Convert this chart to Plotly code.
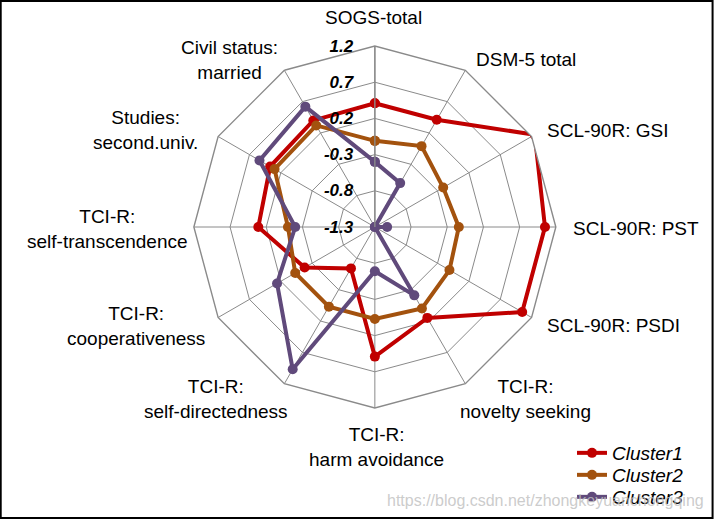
import plotly.graph_objects as go

categories = [
    "SOGS-total", "DSM-5 total", "SCL-90R: GSI", "SCL-90R: PST", "SCL-90R: PSDI",
    "TCI-R:<br>novelty seeking", "TCI-R:<br>harm avoidance", "TCI-R:<br>self-directedness",
    "TCI-R:<br>cooperativeness", "TCI-R:<br>self-transcendence",
    "Studies:<br>second.univ.", "Civil status:<br>married",
]
cluster1 = [0.41, 0.41, 1.25, 1.05, 1.05, 0.15, 0.49, -0.64, -0.18, 0.31, 0.37, 0.40]
cluster2 = [-0.11, -0.01, -0.21, -0.14, -0.11, 0.00, -0.03, -0.03, -0.03, -0.10, 0.30, 0.32]
cluster3 = [-0.40, -0.60, -1.30, -1.13, -1.30, -0.21, -0.69, 0.97, 0.26, -0.20, 0.54, 0.62]
series_names = ["Cluster1", "Cluster2", "Cluster3"]
colors = ["#C00000", "#A3520E", "#604A7B"]
tick_vals = [-1.3, -0.8, -0.3, 0.2, 0.7, 1.2]
tick_text = ["-1.3", "-0.8", "-0.3", "0.2", "0.7", "1.2"]

# label placement (pixel positions in the 714x520 canvas) and anchors
W, H = 714, 520
label_xy = [(373, 18), (474, 59), (545, 130), (571, 228), (545, 325), (525, 399),
            (376, 447), (216, 399), (136, 326), (107, 229), (145, 130), (229, 60)]
label_anchor = ["center", "left", "left", "left", "left", "center",
                "center", "center", "center", "center", "center", "center"]
legend_rows_y = [453, 475, 497]

FONT = "Liberation Sans, Arial, sans-serif"
fig = go.Figure()
legend_ids = ["legend", "legend2", "legend3"]
for name, vals, col, lg in zip(series_names, [cluster1, cluster2, cluster3], colors, legend_ids):
    fig.add_trace(go.Scatterpolar(
        r=vals + vals[:1], theta=categories + categories[:1],
        mode="lines+markers", name=name, legend=lg, cliponaxis=True, showlegend=True,
        line=dict(color=col, width=4), marker=dict(color=col, size=10, symbol="circle"),
    ))

annotations = []
for text, (px, py), anc in zip(categories, label_xy, label_anchor):
    annotations.append(dict(text=text, xref="paper", yref="paper", x=px / W, y=1 - py / H,
                            xanchor=anc, yanchor="middle", showarrow=False, align="center",
                            font=dict(family=FONT, size=19, color="black")))
annotations.append(dict(text="https://blog.csdn.net/zhongkeyuanchongqing", xref="paper", yref="paper",
                        x=706 / W, y=1 - 500 / H, xanchor="right", yanchor="middle", showarrow=False,
                        font=dict(family=FONT, size=16, color="rgba(190,190,190,0.8)")))

layout_legends = {}
for lg, ry in zip(legend_ids, legend_rows_y):
    layout_legends[lg] = dict(
        x=572 / W, y=1 - ry / H, xanchor="left", yanchor="middle",
        font=dict(family=FONT, size=19, color="black", style="italic"),
        bgcolor="rgba(0,0,0,0)", borderwidth=0, visible=True,
    )

fig.update_layout(
    width=W, height=H,
    showlegend=True,
    margin=dict(l=0, r=0, t=0, b=0),
    paper_bgcolor="white",
    font=dict(family=FONT, size=19, color="black"),
    polar=dict(
        domain=dict(x=[0.27, 0.78], y=[0.2154, 0.9115]),
        gridshape="linear",
        bgcolor="white",
        angularaxis=dict(
            direction="clockwise", rotation=90,
            categoryorder="array", categoryarray=categories,
            showline=True, linecolor="#8a8a8a", linewidth=1.4,
            gridcolor="#8a8a8a", gridwidth=1.4,
            showticklabels=False, ticks="",
        ),
        radialaxis=dict(
            range=[-1.3, 1.2], tickvals=tick_vals, ticktext=tick_text,
            angle=90, tickangle=90, side="counterclockwise",
            showline=True, linecolor="#8a8a8a", linewidth=1.4,
            gridcolor="#8a8a8a", gridwidth=1.4,
            ticks="outside", ticklen=15, tickcolor="rgba(0,0,0,0)",
            tickfont=dict(family=FONT, size=17, color="black", weight="bold", style="italic"),
        ),
    ),
    shapes=[dict(type="rect", xref="paper", yref="paper", x0=0.001, y0=0.004, x1=0.998, y1=0.998,
                 line=dict(color="black", width=2))],
    annotations=annotations,
    **layout_legends,
)
fig.write_html("out.html", config={"displayModeBar": False},
               post_script="document.body.style.margin='0';document.body.style.overflow='hidden';")
